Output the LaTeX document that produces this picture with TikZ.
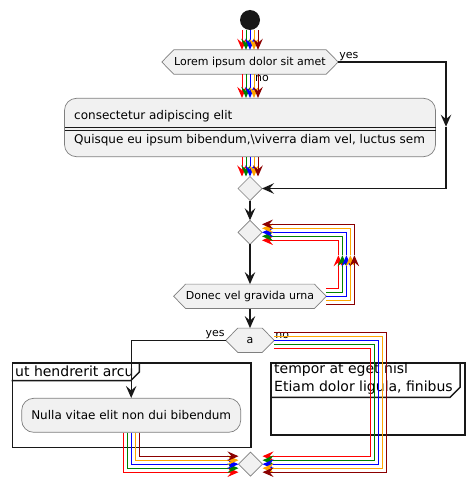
\documentclass[tikz,border=0pt]{standalone}
\usepackage{fontspec}
\setmainfont{DejaVu Sans}
\usetikzlibrary{arrows.meta,shapes.geometric,backgrounds}
\definecolor{pumlfill}{HTML}{F1F1F1}
\definecolor{pumlline}{HTML}{7F7F7F}
\definecolor{pumlink}{HTML}{181818}
\definecolor{cRed}{HTML}{FF0000}
\definecolor{cGreen}{HTML}{008000}
\definecolor{cBlue}{HTML}{0000FF}
\definecolor{cOrange}{HTML}{FFA500}
\definecolor{cDarkRed}{HTML}{8B0000}
\newcommand{\hexpt}{12}
\newcommand{\hexfont}{\fontsize{11}{13}\selectfont}
\newcommand{\actfont}{\fontsize{12}{14}\selectfont}
\newcommand{\framefont}{\fontsize{14}{17.3}\selectfont}
\newcommand{\flowcolors}{cRed,cGreen,cBlue,cOrange,cDarkRed}
\tikzset{
  >={Stealth[length=11pt,width=9.5pt,inset=4pt]},
  actbox/.style={rectangle, rounded corners=12pt, draw=pumlline, fill=pumlfill, line width=0.7pt, inner sep=0pt},
  hexbox/.style={rectangle, inner sep=0pt, minimum height=24pt, font=\hexfont},
  hexedge/.style={draw=pumlline, fill=pumlfill, line width=0.7pt},
  mergebox/.style={diamond, draw=pumlline, fill=pumlfill, line width=0.7pt, minimum width=24pt, minimum height=24pt, inner sep=0pt, outer sep=0pt},
  flow/.style={-{Stealth[length=12pt,width=10.5pt,inset=4.5pt]}, draw=pumlink, line width=1.3pt},
  cflow/.style={->, draw=#1, line width=1pt},
  framebox/.style={rectangle, draw=pumlink, line width=1.5pt, inner sep=0pt, anchor=north west},
  guard/.style={font=\hexfont, inner sep=1pt},
}
\begin{document}
\begin{tikzpicture}[x=1pt,y=-1pt]
\useasboundingbox (0,0) rectangle (474,487);
%frames
\node[framebox, minimum width=238.3pt, minimum height=84.4pt] (fr1) at (11.7,362.3) {};
\node[framebox, minimum width=194.3pt, minimum height=72pt] (fr2) at (270,362.3) {};
\node[anchor=west, font=\framefont, inner sep=0pt] (fr1t) at (15,371.7) {ut hendrerit arcu};
\node[anchor=north west, font=\framefont, align=left, inner sep=0pt] (fr2t) at (274,363) {tempor at eget nisl\\Etiam dolor ligula, finibus};
\draw[pumlink, line width=1.5pt] (11.7,380.7) -- (130.7,380.7) -- (139.3,372) -- (139.3,362.3);
\draw[pumlink, line width=1.5pt] (270,397.3) -- (450,397.3) -- (460,387.3) -- (460,362.3);
%nodes
\node[circle, fill=pumlink, minimum size=20pt, inner sep=0pt] (start) at (250,20) {};
\node[hexbox, minimum width=152pt] (ifA) at (250,62) {Lorem ipsum dolor sit amet};
\node[actbox, minimum width=371pt, minimum height=58.4pt] (act1) at (250,127.5) {};
\node[anchor=west, font=\actfont, inner sep=0pt] (act1a) at (74,116) {consectetur adipiscing elit};
\node[anchor=west, font=\actfont, inner sep=0pt] (act1b) at (74,140.5) {Quisque eu ipsum bibendum,\textbackslash viverra diam vel, luctus sem};
\draw[pumlink, line width=0.7pt] (64.5,127.8) -- (435.5,127.8) (64.5,130.2) -- (435.5,130.2);
\node[mergebox] (merge1) at (250,188.5) {};
\node[mergebox] (loop) at (250,232.3) {};
\node[hexbox, minimum width=128pt] (cond) at (250,296.3) {Donec vel gravida urna};
\node[hexbox, minimum width=24pt] (ifB) at (250,340.3) {a};
\node[actbox, minimum width=219pt, minimum height=34pt, font=\actfont] (act2) at (131.2,415.3) {Nulla vitae elit non dui bibendum};
\node[mergebox] (merge2) at (250.5,464.2) {};
%hexagons
\begin{scope}[on background layer]
\foreach \h in {ifA,cond,ifB}
  \filldraw[hexedge] ([xshift=-\hexpt]\h.west) -- (\h.north west) -- (\h.north east) -- ([xshift=\hexpt]\h.east) -- (\h.south east) -- (\h.south west) -- cycle;
\end{scope}
%guards
\node[guard, anchor=south west] (yesAl) at ([xshift=\hexpt]ifA.east) {yes};
\node[guard, anchor=north west] (noAl) at ([xshift=4]ifA.south) {no};
\node[guard, anchor=south east] (yesBl) at ([xshift=-\hexpt]ifB.west) {yes};
\node[guard, anchor=south west] (noBl) at ([xshift=\hexpt]ifB.east) {no};
%black flow
\coordinate (yesA) at (446,126.7);
\draw[flow] ([xshift=\hexpt]ifA.east) -| (yesA);
\draw[flow] (yesA) |- (merge1.east);
\draw[flow] (merge1.south) -- (loop.north);
\draw[flow] (loop.south) -- (cond.north);
\draw[flow] (cond.south) -- (ifB.north);
\draw[flow] ([xshift=-\hexpt]ifB.west) -| (act2.north);
%coloured flow
\foreach \c [count=\i from 0] in \flowcolors {
  \draw[cflow=\c] ([xshift=4*\i-8]start.south) -- ([xshift=4*\i-8]ifA.north);
  \draw[cflow=\c] ([xshift=4*\i-8]ifA.south) -- ([xshift=4*\i-8]act1.north);
  \draw[cflow=\c] ([xshift=4*\i-8]act1.south) -- ([xshift=4*\i-8]merge1.north);
  \draw[cflow=\c] ([xshift=\hexpt,yshift=8-4*\i]cond.east) -| ++(12+4*\i,-33-4*\i) coordinate (lp\i);
  \draw[cflow=\c] (lp\i) |- ([yshift=4*\i-8]loop.east);
  \draw[cflow=\c] ([xshift=\hexpt,yshift=4*\i-8]ifB.east) -- ++(96+4*\i,0) |- ([yshift=8-4*\i]merge2.east);
  \draw[cflow=\c] ([xshift=4*\i-8]act2.south) |- ([yshift=4*\i-8]merge2.west);
}
\end{tikzpicture}
\end{document}
